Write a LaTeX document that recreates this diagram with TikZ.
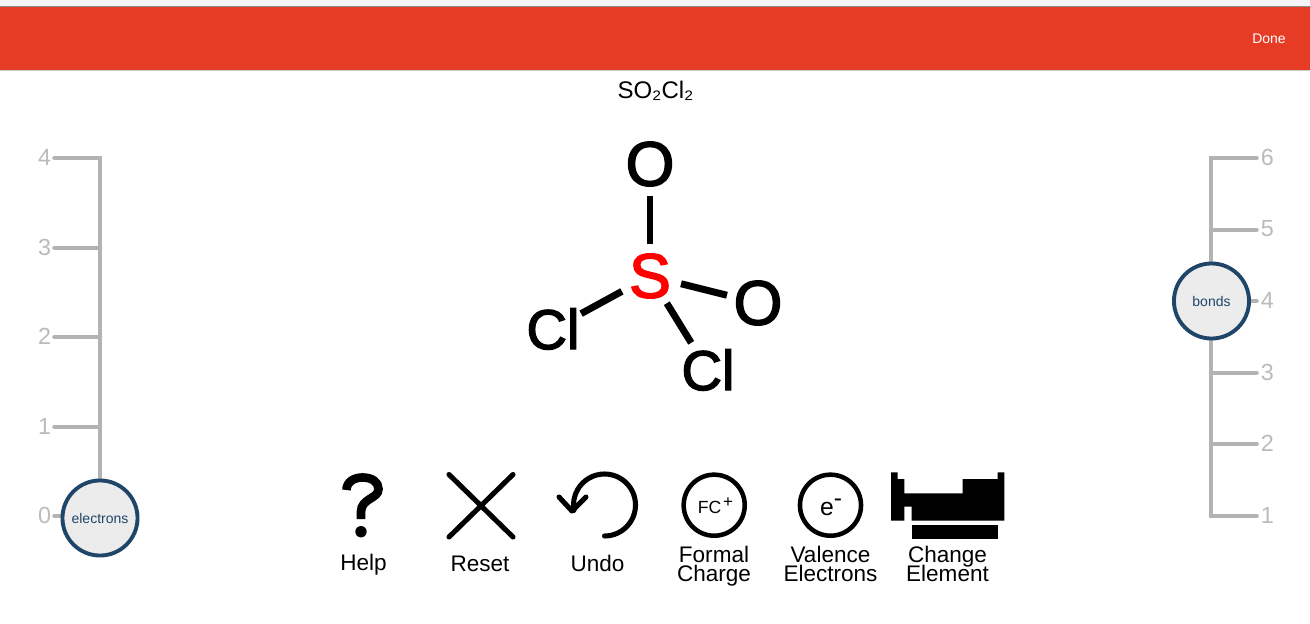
\documentclass[tikz,border=0pt]{standalone}
\usepackage{fontspec}
\setmainfont{Liberation Sans}
\newfontfamily\atomfont[FakeBold=2.5]{Liberation Sans}
\setlength\lineskiplimit{-20pt}
\definecolor{barred}{HTML}{E63C26}
\definecolor{slidergray}{HTML}{B3B3B3}
\definecolor{ticktext}{HTML}{BBBBBB}
\definecolor{knobblue}{HTML}{1F4568}
\definecolor{knobfill}{HTML}{ECECEC}
\tikzset{
  track/.style={slidergray,line width=3.4pt,line cap=round,miter limit=10},
  ticklabel/.style={ticktext,inner sep=1.2pt,yshift=0.7pt,font=\fontsize{17.5}{17.5}\selectfont},
  knob/.style={circle,draw=knobblue,fill=knobfill,line width=2.9pt,minimum size=56.3pt,inner sep=0pt,text=knobblue,font=\fontsize{10.5}{10.5}\selectfont},
  atom/.style={inner sep=0pt,font=\atomfont\fontsize{47}{47}\selectfont},
  chlorine/.style={inner sep=0pt,font=\atomfont\fontsize{42}{42}\selectfont},
  bond/.style={line width=5.2pt,shorten >=24pt,shorten <=24pt},
  iconline/.style={line width=3.8pt,line cap=round,line join=round},
  iconcircle/.style={circle,draw,line width=3.4pt,minimum size=45.8pt,inner sep=0pt},
  caption/.style={align=center,inner sep=0pt,font=\fontsize{16.9}{14.2}\selectfont}
}
\begin{document}
\begin{tikzpicture}[x=0.75pt,y=-0.75pt]
    \useasboundingbox (0,0) rectangle (1310,624);
    \fill[white] (0,0) rectangle (1310,624);

    % top bar
    \fill[black!4] (0,0) rectangle (1310,6);
    \fill[barred] (0,6) rectangle (1310,70);
    \draw[black!45,line width=0.75pt] (0,6.5) -- (1310,6.5);
    \draw[black!20,line width=0.75pt] (0,70.5) -- (1310,70.5);
    \node[white,font=\fontsize{10.5}{10.5}\selectfont] (done) at (1269,39) {Done};
    \node[font=\fontsize{18}{18}\selectfont] (title) at (655.5,91) {SO₂Cl₂};

    % molecule
    \node[atom,red] (sulfur) at (650,276) {S};
    \node[atom] (otop) at (650,164) {O};
    \node[atom] (oright) at (758,303) {O};
    \node[chlorine] (clleft) at (553,329) {Cl};
    \node[chlorine] (clright) at (708,370) {Cl};
    \draw[bond] (sulfur.center) -- (otop.center);
    \draw[bond] (sulfur.center) -- (oright.center);
    \draw[bond] (sulfur.center) -- (clleft.center);
    \draw[bond] (sulfur.center) -- (clright.center);

    % left slider
    \draw[track] (54.5,158) node[left,ticklabel,xshift=0.4pt] (e4) {4} -- (100,158) -- (100,516);
    \draw[track] (54.5,248) node[left,ticklabel,xshift=0.4pt] (e3) {3} -- (100,248);
    \draw[track] (54.5,337) node[left,ticklabel,xshift=0.4pt] (e2) {2} -- (100,337);
    \draw[track] (54.5,427) node[left,ticklabel,xshift=0.4pt] (e1) {1} -- (100,427);
    \draw[track] (54.5,516) node[left,ticklabel,xshift=0.4pt] (e0) {0} -- (100,516);
    \node[knob] (electrons) at (100,518) {electrons};

    % right slider
    \draw[track] (1256.5,158) node[right,ticklabel,xshift=0.3pt] (b6) {6} -- (1211,158) -- (1211,516);
    \draw[track] (1256.5,230) node[right,ticklabel,xshift=0.3pt] (b5) {5} -- (1211,230);
    \draw[track] (1256.5,301) node[right,ticklabel,xshift=0.3pt] (b4) {4} -- (1211,301);
    \draw[track] (1256.5,373) node[right,ticklabel,xshift=0.3pt] (b3) {3} -- (1211,373);
    \draw[track] (1256.5,444) node[right,ticklabel,xshift=0.3pt] (b2) {2} -- (1211,444);
    \draw[track] (1256.5,516) node[right,ticklabel,xshift=0.3pt] (b1) {1} -- (1211,516);
    \node[knob] (bonds) at (1211.5,301) {bonds};

    % buttons
    \draw[line width=6.5pt] (346.5,490) .. controls (346.5,482) and (354,477.5) .. (362.5,477.5)
      .. controls (372,477.5) and (378.5,482) .. (378.5,489) .. controls (378.5,499) and (361,498) .. (361,512) -- (361,519);
    \fill (361,531.7) circle (5.7);
    \node[caption,anchor=base] (helptext) at (363.5,570) {Help};

    \draw[iconline] (449,474.5) -- (513,537);
    \draw[iconline] (513,474.5) -- (449,537);
    \node[caption,anchor=base] (resettext) at (480,571) {Reset};

    \draw[iconline] (604.5,536) arc[start angle=90,end angle=-190,radius=31];
    \draw[iconline] (559,497) -- (572,511) -- (586,497);
    \node[caption,anchor=base] (undotext) at (597.5,571) {Undo};

    \node[iconcircle] (charge) at (714.2,505.2) {};
    \node[anchor=base,inner sep=0pt,font=\fontsize{13.2}{13.2}\selectfont] (fc) at (709.6,513) {FC};
    \node[anchor=base,inner sep=0pt,font=\fontsize{12.7}{12.7}\selectfont] (plus) at (728,507) {+};
    \node[caption,anchor=base] (chargetext) at (714,581) {Formal\\Charge};

    \node[iconcircle] (valence) at (830.5,505.2) {};
    \node[anchor=base,inner sep=0pt,font=\fontsize{18.5}{18.5}\selectfont] (eletter) at (827,515) {e};
    \node[anchor=base,inner sep=0pt,font=\fontsize{18.5}{18.5}\selectfont] (minus) at (838,506.5) {-};
    \node[caption,anchor=base] (valencetext) at (830.5,581) {Valence\\Electrons};

    \fill (891,472.3) -- (897.7,472.3) -- (897.7,479) -- (904.3,479) -- (904.3,493.3) -- (962.7,493.3) -- (962.7,479)
      -- (997.7,479) -- (997.7,472.3) -- (1004.3,472.3) -- (1004.3,520.7) -- (911.7,520.7) -- (911.7,506.7)
      -- (904.3,506.7) -- (904.3,520.7) -- (891,520.7) -- cycle;
    \fill (911.7,525) rectangle (997.7,539);
    \node[caption,anchor=base] (elementtext) at (947.5,581) {Change\\Element};
\end{tikzpicture}
\end{document}
